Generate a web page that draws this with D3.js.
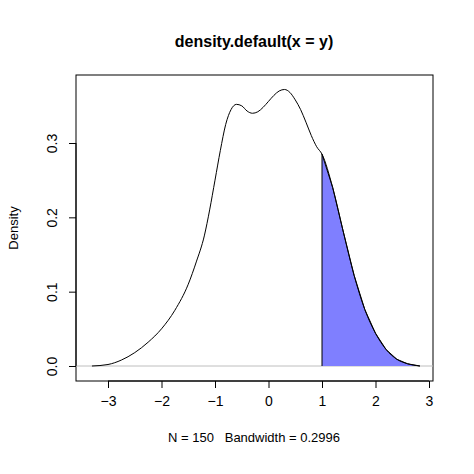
<!DOCTYPE html>
<html><head><meta charset="utf-8">
<script src="https://cdn.jsdelivr.net/npm/d3@7"></script>
<style>body{margin:0;background:#fff}text{font-family:"Liberation Sans",Arial,sans-serif}</style>
</head><body>
<svg id="c" width="474" height="474"></svg>
<script>
const xs = [-3.3,-3.0,-2.75,-2.5,-2.25,-2.0,-1.75,-1.5,-1.35,-1.2,-1.1,-1.0,-0.9,-0.8,-0.7,-0.6,-0.5,-0.4,-0.3,-0.2,-0.1,0.0,0.1,0.2,0.3,0.4,0.5,0.6,0.7,0.8,0.9,1.0,1.2,1.4,1.6,1.8,2.0,2.2,2.4,2.6,2.83];
const ys = [0.0,0.002,0.008,0.018,0.032,0.05,0.075,0.11,0.14,0.175,0.21,0.25,0.29,0.325,0.345,0.352,0.35,0.343,0.34,0.342,0.348,0.356,0.364,0.37,0.372,0.368,0.358,0.345,0.328,0.31,0.295,0.285,0.24,0.18,0.122,0.076,0.044,0.022,0.009,0.003,0.0];
const xTicks = [-3,-2,-1,0,1,2,3];
const yTicks = [0.0,0.1,0.2,0.3];
const cut = 1;
const svg = d3.select("#c");
const x = d3.scaleLinear().domain([-3, 3]).range([108, 429]);
const y = d3.scaleLinear().domain([0, 0.3]).range([366, 143]);
const data = xs.map((v,i)=>({x:v,y:ys[i]}));
svg.append("rect").attr("x",76).attr("y",75).attr("width",357).attr("height",306).attr("fill","none").attr("stroke","#000");
svg.append("line").attr("x1",76).attr("x2",433).attr("y1",y(0)).attr("y2",y(0)).attr("stroke","#bebebe");
const sh = data.filter(d=>d.x>=cut);
svg.append("path").datum([{x:cut,y:0},...sh,{x:sh[sh.length-1].x,y:0}])
 .attr("d",d3.line().x(d=>x(d.x)).y(d=>y(d.y))).attr("fill","#7f7fff").attr("stroke","#000");
svg.append("path").datum(data).attr("d",d3.line().curve(d3.curveMonotoneX).x(d=>x(d.x)).y(d=>y(d.y)))
 .attr("fill","none").attr("stroke","#000");
const xa = svg.append("g").attr("transform","translate(0,381)").call(d3.axisBottom(x).tickValues(xTicks).tickSize(7).tickPadding(8).tickFormat(d3.format("d")));
xa.select(".domain").attr("d",`M${x(-3)},0H${x(3)}`);
const ya = svg.append("g").attr("transform","translate(76,0)").call(d3.axisLeft(y).tickValues(yTicks).tickSize(7).tickFormat(d3.format(".1f")));
ya.select(".domain").attr("d",`M0,${y(0)}V${y(0.3)}`);
ya.selectAll("text").attr("x",0).attr("y",0).attr("dy","0").attr("text-anchor","middle")
 .attr("transform","translate(-19,0) rotate(-90)");
svg.selectAll(".tick text").attr("font-size",14).attr("fill","#000").style("font-family","Liberation Sans, Arial");
svg.selectAll(".tick line,.domain").attr("stroke","#000");
svg.append("text").attr("x",254).attr("y",47).attr("text-anchor","middle").attr("font-size",16).attr("font-weight","bold").text("density.default(x = y)");
svg.append("text").attr("x",254).attr("y",442).attr("text-anchor","middle").attr("font-size",13).attr("xml:space","preserve").text("N = 150   Bandwidth = 0.2996");
svg.append("text").attr("transform","translate(18,228) rotate(-90)").attr("text-anchor","middle").attr("font-size",13).text("Density");
</script>
</body></html>
